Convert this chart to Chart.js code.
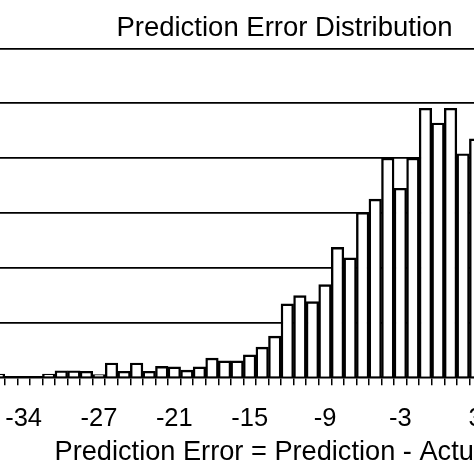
<!DOCTYPE html>
<html>
<head>
<meta charset="utf-8">
<script src="https://cdn.jsdelivr.net/npm/chart.js@4"></script>
<style>
  html, body { margin: 0; padding: 0; background: #fff; overflow: hidden; }
  #wrap { position: absolute; left: -20px; top: 0; width: 600px; height: 474px; }
</style>
</head>
<body>
<div id="wrap"><canvas id="errChart" width="600" height="474"></canvas></div>
<script>
// histogram counts per bin (one unit = one gridline step), left to right
const counts = [
    0.06, 0, 0, 0, 0.06, 0.12, 0.12, 0.11, 0.05, 0.26,
    0.11, 0.26, 0.11, 0.20, 0.19, 0.13, 0.19, 0.35, 0.30, 0.30,
    0.41, 0.55, 0.75, 1.34, 1.49, 1.38, 1.69, 2.37, 2.18, 3.01,
    3.25, 4.00, 3.45, 4.00, 4.91, 4.64, 4.91, 4.08, 4.35,
    null, null, null, null, null, null   // cut off in the picture
];
const tickLabels = ['-34', '-27', '-21', '-15', '-9', '-3', '3'];
const firstLabelBin = 2;
const binsPerLabel = 6;

const categories = counts.map((_, i) => {
    const k = i - firstLabelBin;
    if (k >= 0 && k % binsPerLabel === 0) return tickLabels[k / binsPerLabel] || '';
    return '';
});

const font = 'Liberation Sans, Arial, sans-serif';
const ctx = document.getElementById('errChart');

new Chart(ctx, {
    type: 'bar',
    data: {
        labels: categories,
        datasets: [{
            label: 'Prediction Error',
            data: counts,
            backgroundColor: '#fff',
            borderColor: '#000',
            borderWidth: 2.4,
            barPercentage: 1,
            categoryPercentage: 1
        }]
    },
    options: {
        responsive: false,
        animation: false,
        layout: { padding: { left: 9.4, right: 0.4, top: 0, bottom: 0 } },
        plugins: {
            legend: { display: false },
            tooltip: { enabled: false },
            title: {
                display: true,
                text: 'Prediction Error Distribution',
                color: '#000',
                font: { family: font, size: 27.5, weight: 'normal' },
                padding: { top: 11.5, bottom: 4 }
            }
        },
        scales: {
            x: {
                z: 1,
                grid: {
                    display: true,
                    drawOnChartArea: false,
                    drawTicks: true,
                    tickLength: 8,
                    color: '#000',
                    lineWidth: 1.5
                },
                border: { display: true, color: '#000', width: 2.5 },
                ticks: {
                    autoSkip: false,
                    maxRotation: 0,
                    minRotation: 0,
                    padding: 18.4,
                    color: '#000',
                    font: { family: font, size: 25.5 }
                },
                title: {
                    display: true,
                    text: 'Prediction Error = Prediction - Actual',
                    color: '#000',
                    font: { family: font, size: 27.2 },
                    padding: { top: -16.24, bottom: 4.9 }
                }
            },
            y: {
                position: 'right',
                min: 0,
                max: 6,
                ticks: { display: false, stepSize: 1 },
                grid: { color: '#000', lineWidth: 1.8, drawTicks: false },
                border: { display: false },
                afterFit: (scale) => { scale.width = 22.3; }
            }
        }
    }
});
</script>
</body>
</html>
